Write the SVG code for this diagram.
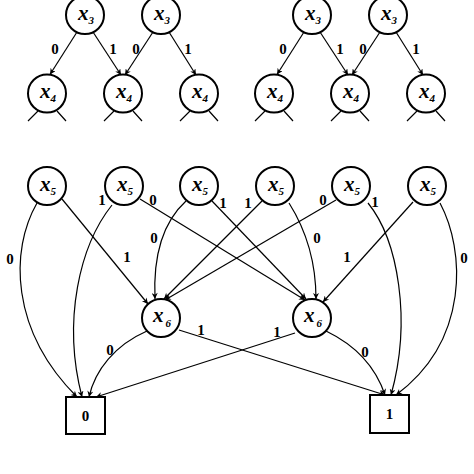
<svg xmlns="http://www.w3.org/2000/svg" width="474" height="474" viewBox="0 0 474 474">
<defs>
<marker id="ah" viewBox="0 0 10 10" refX="10" refY="5" markerWidth="8" markerHeight="6" markerUnits="userSpaceOnUse" orient="auto">
<path d="M0,0 L10,5 L0,10 L3,5 Z" fill="#000"/>
</marker>
</defs>
<style>
.n{fill:#fff;stroke:#000;stroke-width:2}
.e{fill:none;stroke:#000;stroke-width:1.2;marker-end:url(#ah)}
.s{fill:none;stroke:#000;stroke-width:1.2}
.v{font-family:"Liberation Serif",serif;font-style:italic;font-weight:bold;font-size:21px;text-anchor:middle}
.sub{font-size:11px}
.l{font-family:"Liberation Serif",serif;font-weight:bold;font-size:15px;text-anchor:middle}
.t{font-family:"Liberation Serif",serif;font-weight:bold;font-size:15px;text-anchor:middle}
</style>
<rect width="474" height="474" fill="#fff"/>

<!-- top trees -->
<g id="connectors-top">
<path class="e" d="M77,32 L50,74.5"/>
<path class="e" d="M93,32 L121,75"/>
<path class="e" d="M153,32 L125,75"/>
<path class="e" d="M169,32 L196,75"/>
<path class="e" d="M304,32 L277,74.5"/>
<path class="e" d="M320,32 L348,75"/>
<path class="e" d="M380,32 L352,75"/>
<path class="e" d="M396,32 L423,75"/>
<path class="s" d="M38,111 L28,121 M57,111 L66,121 M114,111 L104,121 M133,111 L142,121 M190,111 L180,121 M209,111 L218,121"/>
<path class="s" d="M265,111 L255,121 M284,111 L293,121 M341,111 L331,121 M360,111 L369,121 M417,111 L407,121 M436,111 L445,121"/>
</g>
<g id="labels-top">
<text class="l" x="55" y="54">0</text>
<text class="l" x="113" y="54">1</text>
<text class="l" x="136" y="54">0</text>
<text class="l" x="188" y="54">1</text>
<text class="l" x="283" y="54">0</text>
<text class="l" x="340" y="54">1</text>
<text class="l" x="363" y="54">0</text>
<text class="l" x="416" y="54">1</text>
</g>
<g id="x3a"><circle class="n" cx="85" cy="15" r="19"/><text class="v" x="86" y="20">x<tspan class="sub" dy="4">3</tspan></text></g>
<g id="x3b"><circle class="n" cx="161" cy="15" r="19"/><text class="v" x="162" y="20">x<tspan class="sub" dy="4">3</tspan></text></g>
<g id="x4a"><circle class="n" cx="47" cy="93.5" r="19"/><text class="v" x="48" y="98">x<tspan class="sub" dy="4">4</tspan></text></g>
<g id="x4b"><circle class="n" cx="123" cy="93.5" r="19"/><text class="v" x="124" y="98">x<tspan class="sub" dy="4">4</tspan></text></g>
<g id="x4c"><circle class="n" cx="199" cy="93.5" r="19"/><text class="v" x="200" y="98">x<tspan class="sub" dy="4">4</tspan></text></g>
<g id="x3c"><circle class="n" cx="312" cy="15" r="19"/><text class="v" x="313" y="20">x<tspan class="sub" dy="4">3</tspan></text></g>
<g id="x3d"><circle class="n" cx="388" cy="15" r="19"/><text class="v" x="389" y="20">x<tspan class="sub" dy="4">3</tspan></text></g>
<g id="x4d"><circle class="n" cx="274" cy="93.5" r="19"/><text class="v" x="275" y="98">x<tspan class="sub" dy="4">4</tspan></text></g>
<g id="x4e"><circle class="n" cx="350" cy="93.5" r="19"/><text class="v" x="351" y="98">x<tspan class="sub" dy="4">4</tspan></text></g>
<g id="x4f"><circle class="n" cx="426" cy="93.5" r="19"/><text class="v" x="427" y="98">x<tspan class="sub" dy="4">4</tspan></text></g>

<!-- bottom diagram -->
<g id="connectors">
<path class="e" d="M37,203 C10,250 10,330 77,397"/>
<path class="e" d="M62,199 L148,304"/>
<path class="e" d="M112,205 C80,245 62,320 82,397"/>
<path class="e" d="M140,199 L305,300"/>
<path class="e" d="M186,201 C163,222 153,255 155,299"/>
<path class="e" d="M212,201 L306,299"/>
<path class="e" d="M262,201 L164,299"/>
<path class="e" d="M289,203 C306,230 316,260 316,299"/>
<path class="e" d="M336,200 L165,300"/>
<path class="e" d="M368,203 C398,240 412,320 391,395"/>
<path class="e" d="M413,202 L323,302"/>
<path class="e" d="M440,203 C465,250 470,340 396,395"/>
<path class="e" d="M147,331 C115,345 95,370 89,397"/>
<path class="e" d="M179,330 L385,395"/>
<path class="e" d="M295,333 L96,397"/>
<path class="e" d="M326,331 C355,345 375,365 385,395"/>
</g>
<g id="edge-labels">
<text class="l" x="10" y="264">0</text>
<text class="l" x="127" y="262">1</text>
<text class="l" x="102" y="205">1</text>
<text class="l" x="153" y="205">0</text>
<text class="l" x="154" y="243">0</text>
<text class="l" x="223" y="208">1</text>
<text class="l" x="248" y="208">1</text>
<text class="l" x="317" y="243">0</text>
<text class="l" x="323" y="205">0</text>
<text class="l" x="375" y="207">1</text>
<text class="l" x="347" y="262">1</text>
<text class="l" x="464" y="263">0</text>
<text class="l" x="110" y="355">0</text>
<text class="l" x="201" y="335">1</text>
<text class="l" x="277" y="337">1</text>
<text class="l" x="365" y="357">0</text>
</g>
<g id="x5a"><circle class="n" cx="47" cy="186" r="19"/><text class="v" x="48" y="191">x<tspan class="sub" dy="4">5</tspan></text></g>
<g id="x5b"><circle class="n" cx="124" cy="186" r="19"/><text class="v" x="125" y="191">x<tspan class="sub" dy="4">5</tspan></text></g>
<g id="x5c"><circle class="n" cx="199" cy="186" r="19"/><text class="v" x="200" y="191">x<tspan class="sub" dy="4">5</tspan></text></g>
<g id="x5d"><circle class="n" cx="275" cy="186" r="19"/><text class="v" x="276" y="191">x<tspan class="sub" dy="4">5</tspan></text></g>
<g id="x5e"><circle class="n" cx="351" cy="186" r="19"/><text class="v" x="352" y="191">x<tspan class="sub" dy="4">5</tspan></text></g>
<g id="x5f"><circle class="n" cx="427" cy="186" r="19"/><text class="v" x="428" y="191">x<tspan class="sub" dy="4">5</tspan></text></g>
<g id="x6a"><circle class="n" cx="161" cy="318" r="19"/><text class="v" x="162" y="322">x<tspan class="sub" dx="2" dy="5">6</tspan></text></g>
<g id="x6b"><circle class="n" cx="312" cy="318" r="19"/><text class="v" x="313" y="322">x<tspan class="sub" dx="2" dy="5">6</tspan></text></g>
<g id="t0"><rect class="n" x="66" y="397" width="39" height="37"/><text class="t" x="85.5" y="421">0</text></g>
<g id="t1"><rect class="n" x="370" y="395" width="39" height="38"/><text class="t" x="389.5" y="419">1</text></g>
</svg>
